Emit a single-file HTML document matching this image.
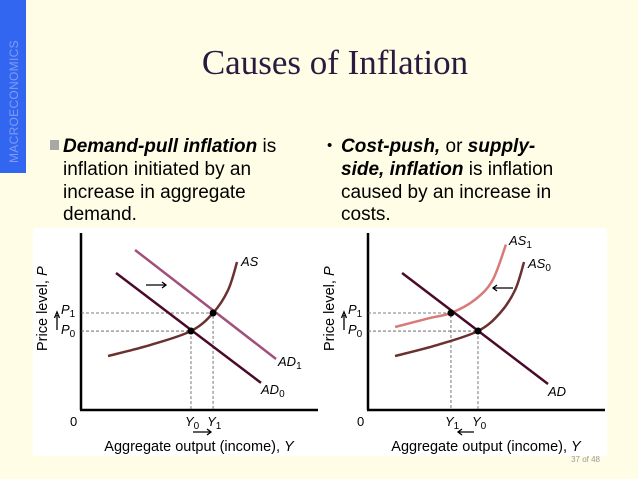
<!DOCTYPE html>
<html><head><meta charset="utf-8"><style>
html,body{margin:0;padding:0;background:#fffde6;}
svg{display:block;}
text{font-family:"Liberation Sans",sans-serif;}
</style></head><body>
<svg id="s" width="638" height="479" viewBox="0 0 638 479" xmlns="http://www.w3.org/2000/svg">
<rect x="0" y="0" width="638" height="479" fill="#fffde6"/>
<rect x="0" y="0" width="26" height="173" fill="#3366f0"/>
<text transform="translate(18,163) rotate(-90)" font-size="12" fill="#7f9cf5" letter-spacing="0.3">MACROECONOMICS</text>
<text x="335" y="74" text-anchor="middle" font-size="35" fill="#2a1a40" style="font-family:'Liberation Serif',serif">Causes of Inflation</text>
<rect x="50" y="140" width="9" height="10" fill="#a8a8a8"/>
<g font-size="19" fill="#000">
<text x="63" y="152"><tspan font-weight="bold" font-style="italic">Demand-pull inflation</tspan> is</text>
<text x="63" y="175">inflation initiated by an</text>
<text x="63" y="198">increase in aggregate</text>
<text x="63" y="220">demand.</text>
</g>
<text x="327" y="150" font-size="15">•</text>
<g font-size="19" fill="#000">
<text x="341" y="152"><tspan font-weight="bold" font-style="italic">Cost-push,</tspan> or <tspan font-weight="bold" font-style="italic">supply-</tspan></text>
<text x="341" y="175"><tspan font-weight="bold" font-style="italic">side, inflation</tspan> is inflation</text>
<text x="341" y="198">caused by an increase in</text>
<text x="341" y="220">costs.</text>
</g>
<rect x="33" y="228" width="574" height="228" fill="#fff"/>
<g id="g1"></g>
<g id="g2"></g>
<text x="600" y="462" font-size="8" fill="#999" text-anchor="end">37 of 48</text>
</svg>
<script>
// data (units 0..100 on both axes)
const asX = [11.5, 29.4, 46.8, 56.2, 62.6, 66.4];
const asY = [30.5, 36.7, 44.6, 54.8, 67.8, 83.6];
const as1X = [11.5, 26.4, 35.3, 45.5, 53, 58.7];
const as1Y = [46.9, 52, 54.8, 62.3, 73.3, 93.5];
const ad0X = [14.9, 76.6];
const ad0Y = [77.4, 15.3];
const ad1X = [23, 83];
const ad1Y = [90.4, 28.8];
const adRX = [14.5, 76.6];
const adRY = [77.4, 14.7];
const leftEqX = [46.8, 56.2];
const leftEqY = [44.6, 54.8];
const rightEqX = [46.8, 35.3];
const rightEqY = [44.6, 54.8];

const NS = "http://www.w3.org/2000/svg";
function mk(parent, tag, attrs, txt){const e=document.createElementNS(NS,tag);for(const k in attrs)e.setAttribute(k,attrs[k]);if(txt!==undefined)e.textContent=txt;parent.appendChild(e);return e;}
function smooth(px,py){let d="M"+px[0]+","+py[0];for(let i=0;i<px.length-1;i++){const p0=i?i-1:i,p3=i+2<px.length?i+2:i+1;const c1x=px[i]+(px[i+1]-px[p0])/6,c1y=py[i]+(py[i+1]-py[p0])/6;const c2x=px[i+1]-(px[p3]-px[i])/6,c2y=py[i+1]-(py[p3]-py[i])/6;d+=" C"+c1x+","+c1y+" "+c2x+","+c2y+" "+px[i+1]+","+py[i+1];}return d;}
function chart(g,ox,curves,eqX,eqY,labels,yl,arrow,bArrowDir){
  const X=v=>ox+v*2.35, Y=v=>410-v*1.77;
  let e;
  e=mk(g,"line",{x1:ox,y1:233,x2:ox,y2:410,stroke:"#000","stroke-width":2.5});
  
  
  e=mk(g,"line",{x1:ox-1,y1:410,x2:ox+237,y2:410,stroke:"#000","stroke-width":2.5});
  
  
  for(let i=0;i<eqX.length;i++){
    e=mk(g,"path",{d:`M${ox},${Y(eqY[i])}H${X(eqX[i])}V410`,fill:"none",stroke:"#555","stroke-width":0.8,"stroke-dasharray":"3,2"});
    
    
  }
  curves.forEach(c=>{
    e=mk(g,"path",{d:smooth(c.x.map(X),c.y.map(Y)),fill:"none",stroke:c.col,"stroke-width":2.5});
    
    
  });
  for(let i=0;i<eqX.length;i++){
    e=mk(g,"circle",{cx:X(eqX[i]),cy:Y(eqY[i]),r:3.5,fill:"#000"});
    
    
  }
  labels.forEach(l=>{
    e=mk(g,"text",{x:l[0],y:l[1],"font-size":13,"font-style":"italic"});
    e.innerHTML=l[2]+'<tspan font-size="10" dy="3" font-style="normal">'+l[3]+'</tspan>';
    
    
  });
  e=mk(g,"text",{x:ox-20,y:Y(eqY[1])+1,"font-size":13,"font-style":"italic"});
  e.innerHTML='P<tspan font-size="10" dy="3" font-style="normal">1</tspan>';
  
  
  e=mk(g,"text",{x:ox-20,y:Y(eqY[0])+3,"font-size":13,"font-style":"italic"});
  e.innerHTML='P<tspan font-size="10" dy="3" font-style="normal">0</tspan>';
  
  
  e=mk(g,"path",{d:`M${ox-24},330V315M${ox-26.5},318L${ox-24},312L${ox-21.5},318`,stroke:"#000","stroke-width":1.3,fill:"none"});
  
  
  yl.forEach(l=>{
    e=mk(g,"text",{x:X(l[0])-6,y:426,"font-size":13,"font-style":"italic"});
    e.innerHTML='Y<tspan font-size="10" dy="3" font-style="normal">'+l[1]+'</tspan>';
    
    
  });
  e=mk(g,"text",{x:ox-11,y:426,"font-size":13},"0");
  
  
  e=mk(g,"text",{x:ox+118,y:451,"font-size":14.5,"text-anchor":"middle"});
  e.innerHTML='Aggregate output (income), <tspan font-style="italic">Y</tspan>';
  
  
  e=mk(g,"text",{transform:`translate(${ox-34},${351}) rotate(-90)`,"font-size":14.5});
  e.innerHTML='Price level, <tspan font-style="italic">P</tspan>';
  
  
  const a=arrow;
  e=mk(g,"path",{d:`M${a[0]},${a[1]}H${a[2]}M${a[2]-4*a[3]},${a[1]-3}L${a[2]},${a[1]}L${a[2]-4*a[3]},${a[1]+3}`,stroke:"#000","stroke-width":1.3,fill:"none"});
  
  
  const b=bArrowDir;
  e=mk(g,"path",{d:`M${b[0]},432H${b[1]}M${b[1]-4*b[2]},429L${b[1]},432L${b[1]-4*b[2]},435`,stroke:"#000","stroke-width":1.3,fill:"none"});
  
  
}
chart(document.getElementById('g1'),81,
 [{x:asX,y:asY,col:"#6b3030",name:"as-curve"},{x:ad1X,y:ad1Y,col:"#a0507a",name:"ad1-line"},{x:ad0X,y:ad0Y,col:"#4a0a2a",name:"ad0-line"}],
 leftEqX,leftEqY,[[241,266,"AS",""],[278,366,"AD","1"],[261,394,"AD","0"]],[[leftEqX[0],"0"],[leftEqX[1],"1"]],[146,285,166,1],[193,211,1]);
chart(document.getElementById('g2'),368,
 [{x:asX,y:asY,col:"#6b3030",name:"as0-curve"},{x:as1X,y:as1Y,col:"#d87a78",name:"as1-curve"},{x:adRX,y:adRY,col:"#4a0a2a",name:"ad-line"}],
 rightEqX,rightEqY,[[509,245,"AS","1"],[528,268,"AS","0"],[548,396,"AD",""]],[[rightEqX[0],"0"],[rightEqX[1],"1"]],[513,288,493,-1],[474,458,-1]);
</script>
</body></html>
